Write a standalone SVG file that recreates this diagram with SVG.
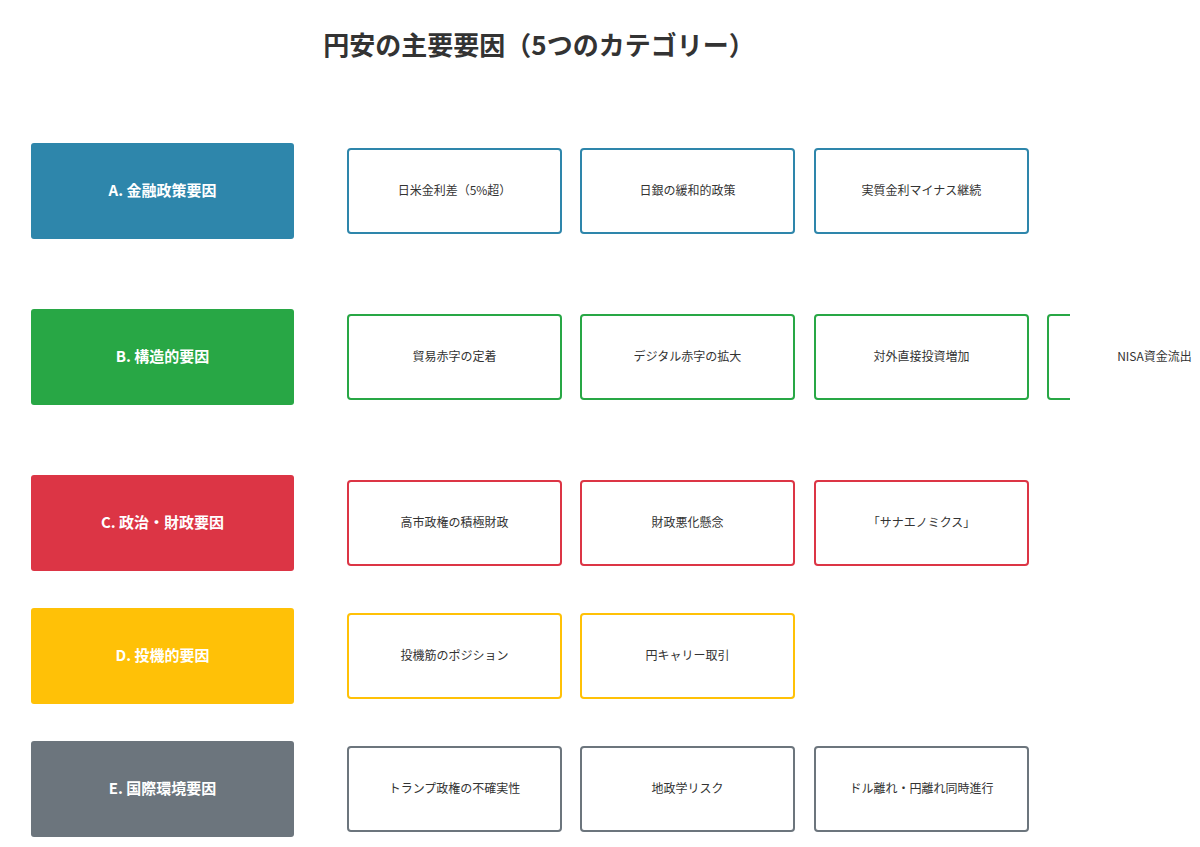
<svg xmlns="http://www.w3.org/2000/svg" width="1200" height="847" viewBox="0 0 1200 847">
<style>
text{font-family:"Noto Sans CJK JP","Noto Sans",sans-serif;text-anchor:middle;dominant-baseline:central}
.title{font-size:26px;font-weight:bold;fill:#333}
.cat{stroke:none}
.catt{font-size:15px;font-weight:bold;fill:#fff}
.item{fill:#fff;stroke-width:2}
.itemt{font-size:12px;fill:#333}
.a{fill:#2e86ab}.b{fill:#28a745}.c{fill:#dc3545}.d{fill:#ffc107}.e{fill:#6c757d}
.sa{stroke:#2e86ab}.sb{stroke:#28a745}.sc{stroke:#dc3545}.sd{stroke:#ffc107}.se{stroke:#6c757d}
</style>
<defs>
<clipPath id="clipB"><rect x="1040" y="300" width="30" height="110"/></clipPath>
</defs>
<rect width="1200" height="847" fill="#fff"/>
<text class="title" x="539" y="43">円安の主要要因（5つのカテゴリー）</text>
<g id="connectors"/>
<g id="catA"><rect class="cat a" x="31" y="143" width="263" height="96" rx="3"/><text class="catt" x="162.5" y="189">A. 金融政策要因</text></g>
<g id="a1"><rect class="item sa" x="348" y="149" width="213" height="84" rx="3"/><text class="itemt" x="454.5" y="189">日米金利差（5%超）</text></g>
<g id="a2"><rect class="item sa" x="581" y="149" width="213" height="84" rx="3"/><text class="itemt" x="687.5" y="189">日銀の緩和的政策</text></g>
<g id="a3"><rect class="item sa" x="815" y="149" width="213" height="84" rx="3"/><text class="itemt" x="921.5" y="189">実質金利マイナス継続</text></g>

<g id="catB"><rect class="cat b" x="31" y="309" width="263" height="96" rx="3"/><text class="catt" x="162.5" y="355">B. 構造的要因</text></g>
<g id="b1"><rect class="item sb" x="348" y="315" width="213" height="84" rx="3"/><text class="itemt" x="454.5" y="355">貿易赤字の定着</text></g>
<g id="b2"><rect class="item sb" x="581" y="315" width="213" height="84" rx="3"/><text class="itemt" x="687.5" y="355">デジタル赤字の拡大</text></g>
<g id="b3"><rect class="item sb" x="815" y="315" width="213" height="84" rx="3"/><text class="itemt" x="921.5" y="355">対外直接投資増加</text></g>
<g id="b4"><rect class="item sb" x="1048" y="315" width="213" height="84" rx="3" clip-path="url(#clipB)"/><text class="itemt" x="1154.5" y="355">NISA資金流出</text></g>

<g id="catC"><rect class="cat c" x="31" y="475" width="263" height="96" rx="3"/><text class="catt" x="162.5" y="521">C. 政治・財政要因</text></g>
<g id="c1"><rect class="item sc" x="348" y="481" width="213" height="84" rx="3"/><text class="itemt" x="454.5" y="521">高市政権の積極財政</text></g>
<g id="c2"><rect class="item sc" x="581" y="481" width="213" height="84" rx="3"/><text class="itemt" x="687.5" y="521">財政悪化懸念</text></g>
<g id="c3"><rect class="item sc" x="815" y="481" width="213" height="84" rx="3"/><text class="itemt" x="921.5" y="521">「サナエノミクス」</text></g>

<g id="catD"><rect class="cat d" x="31" y="608" width="263" height="96" rx="3"/><text class="catt" x="162.5" y="654">D. 投機的要因</text></g>
<g id="d1"><rect class="item sd" x="348" y="614" width="213" height="84" rx="3"/><text class="itemt" x="454.5" y="654">投機筋のポジション</text></g>
<g id="d2"><rect class="item sd" x="581" y="614" width="213" height="84" rx="3"/><text class="itemt" x="687.5" y="654">円キャリー取引</text></g>

<g id="catE"><rect class="cat e" x="31" y="741" width="263" height="96" rx="3"/><text class="catt" x="162.5" y="787">E. 国際環境要因</text></g>
<g id="e1"><rect class="item se" x="348" y="747" width="213" height="84" rx="3"/><text class="itemt" x="454.5" y="787">トランプ政権の不確実性</text></g>
<g id="e2"><rect class="item se" x="581" y="747" width="213" height="84" rx="3"/><text class="itemt" x="687.5" y="787">地政学リスク</text></g>
<g id="e3"><rect class="item se" x="815" y="747" width="213" height="84" rx="3"/><text class="itemt" x="921.5" y="787">ドル離れ・円離れ同時進行</text></g>
</svg>
